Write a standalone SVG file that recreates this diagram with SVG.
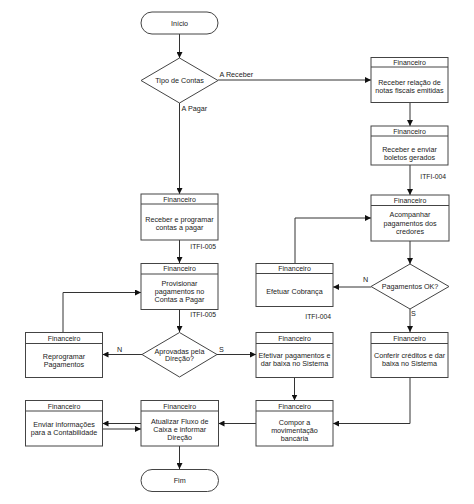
<svg xmlns="http://www.w3.org/2000/svg" width="474" height="504" viewBox="0 0 474 504">
<defs>
<marker id="ah" viewBox="0 0 6 6" refX="6" refY="3" markerWidth="6" markerHeight="6" orient="auto" markerUnits="userSpaceOnUse">
<path d="M0,0 L6,3 L0,6 Z" fill="#111"/>
</marker>
<style>
.box{fill:#fff;stroke:#444;stroke-width:1}
.hl{stroke:#444;stroke-width:1}
.t{font-family:"Liberation Sans",Arial,sans-serif;font-size:7.2px;fill:#222;text-anchor:middle}
.h{font-family:"Liberation Sans",Arial,sans-serif;font-size:7px;fill:#222;text-anchor:middle}
.lb{font-family:"Liberation Sans",Arial,sans-serif;font-size:7.2px;fill:#222}
.it{font-family:"Liberation Sans",Arial,sans-serif;font-size:6.8px;fill:#222;text-anchor:end}
.c{fill:none;stroke:#333;stroke-width:1;marker-end:url(#ah)}
.cn{fill:none;stroke:#333;stroke-width:1}
</style>
</defs>
<rect width="474" height="504" fill="#fff"/>

<g id="connectors">
<path class="c" d="M179.5,34 V58"/>
<path class="c" d="M218,80 H371"/>
<path class="c" d="M179.5,103 V194"/>
<path class="c" d="M410,102 V126"/>
<path class="c" d="M410,165 V195"/>
<path class="c" d="M179.5,240 V263"/>
<path class="c" d="M410,241 V264"/>
<path class="c" d="M371,287 H333"/>
<path class="c" d="M295,264 V218 H371"/>
<path class="c" d="M179.5,309 V332"/>
<path class="c" d="M63,332 V292.5 H141"/>
<path class="c" d="M142,354.5 H102.5"/>
<path class="c" d="M217,354.5 H256"/>
<path class="c" d="M410,309 V332"/>
<path class="c" d="M294.5,377 V400.5"/>
<path class="c" d="M410,377 V423.5 H333"/>
<path class="c" d="M256,423.5 H218.5"/>
<path class="c" d="M141,423.5 H102.5"/>
<path class="c" d="M102.5,429 H141"/>
<path class="c" d="M179.5,446 V469"/>
</g>

<g id="labels">
<text class="lb" x="219.5" y="76.5">A Receber</text>
<text class="lb" x="181.5" y="111">A Pagar</text>
<text class="lb" x="363" y="281.5">N</text>
<text class="lb" x="411" y="316">S</text>
<text class="lb" x="117" y="352">N</text>
<text class="lb" x="219" y="352">S</text>
<text class="it" x="446" y="179">ITFI-004</text>
<text class="it" x="216" y="248.5">ITFI-005</text>
<text class="it" x="216" y="316.5">ITFI-005</text>
<text class="it" x="331" y="318.5">ITFI-004</text>
</g>

<g id="inicio">
<rect class="box" x="141" y="12" width="77" height="22" rx="11"/>
<text class="t" x="179.5" y="25.5">Início</text>
</g>

<g id="tipo">
<path class="box" d="M179.5,58 L218,80.5 L179.5,103 L141,80.5 Z"/>
<text class="t" x="179.5" y="83">Tipo  de Contas</text>
</g>

<g id="receber-relacao">
<rect class="box" x="371" y="57.5" width="77" height="45"/>
<line class="hl" x1="371" y1="67" x2="448" y2="67"/>
<text class="h" x="409.5" y="64.5">Financeiro</text>
<text class="t" x="409.5" y="85">Receber relação de</text>
<text class="t" x="409.5" y="93">notas fiscais emitidas</text>
</g>

<g id="receber-enviar">
<rect class="box" x="371" y="126" width="77" height="39"/>
<line class="hl" x1="371" y1="136" x2="448" y2="136"/>
<text class="h" x="409.5" y="133.5">Financeiro</text>
<text class="t" x="409.5" y="152">Receber e enviar</text>
<text class="t" x="409.5" y="160">boletos gerados</text>
</g>

<g id="receber-programar">
<rect class="box" x="141" y="194" width="77" height="46"/>
<line class="hl" x1="141" y1="204" x2="218" y2="204"/>
<text class="h" x="179.5" y="201.5">Financeiro</text>
<text class="t" x="179.5" y="222">Receber e programar</text>
<text class="t" x="179.5" y="230">contas a pagar</text>
</g>

<g id="acompanhar">
<rect class="box" x="371" y="195" width="78" height="46"/>
<line class="hl" x1="371" y1="205.5" x2="449" y2="205.5"/>
<text class="h" x="410" y="202.5">Financeiro</text>
<text class="t" x="410" y="217">Acompanhar</text>
<text class="t" x="410" y="225.5">pagamentos dos</text>
<text class="t" x="410" y="234">credores</text>
</g>

<g id="provisionar">
<rect class="box" x="141" y="263.5" width="77" height="46"/>
<line class="hl" x1="141" y1="274" x2="218" y2="274"/>
<text class="h" x="179.5" y="271">Financeiro</text>
<text class="t" x="179.5" y="286">Provisionar</text>
<text class="t" x="179.5" y="294">pagamentos no</text>
<text class="t" x="179.5" y="302">Contas a Pagar</text>
</g>

<g id="efetuar-cobranca">
<rect class="box" x="256" y="263.5" width="77" height="43"/>
<line class="hl" x1="256" y1="273.5" x2="333" y2="273.5"/>
<text class="h" x="294.5" y="271">Financeiro</text>
<text class="t" x="294.5" y="294">Efetuar Cobrança</text>
</g>

<g id="pagamentos-ok">
<path class="box" d="M410,264 L449,286.5 L410,309 L371,286.5 Z"/>
<text class="t" x="410" y="289">Pagamentos  OK?</text>
</g>

<g id="reprogramar">
<rect class="box" x="25.5" y="332.5" width="77" height="45"/>
<line class="hl" x1="25.5" y1="343.5" x2="102.5" y2="343.5"/>
<text class="h" x="64" y="340.5">Financeiro</text>
<text class="t" x="64" y="359">Reprogramar</text>
<text class="t" x="64" y="367">Pagamentos</text>
</g>

<g id="aprovadas">
<path class="box" d="M179.5,332.5 L217,354.5 L179.5,377 L142,354.5 Z"/>
<text class="t" x="179.5" y="353.5">Aprovadas pela</text>
<text class="t" x="179.5" y="361">Direção?</text>
</g>

<g id="efetivar">
<rect class="box" x="256" y="332.5" width="77" height="45"/>
<line class="hl" x1="256" y1="343.5" x2="333" y2="343.5"/>
<text class="h" x="294.5" y="340.5">Financeiro</text>
<text class="t" x="294.5" y="358">Efetivar pagamentos e</text>
<text class="t" x="294.5" y="366">dar baixa no Sistema</text>
</g>

<g id="conferir">
<rect class="box" x="371" y="332.5" width="77" height="45"/>
<line class="hl" x1="371" y1="343.5" x2="448" y2="343.5"/>
<text class="h" x="409.5" y="340.5">Financeiro</text>
<text class="t" x="409.5" y="358">Conferir créditos e dar</text>
<text class="t" x="409.5" y="366">baixa no Sistema</text>
</g>

<g id="enviar">
<rect class="box" x="25.5" y="400.5" width="77" height="45.5"/>
<line class="hl" x1="25.5" y1="411" x2="102.5" y2="411"/>
<text class="h" x="64" y="408.5">Financeiro</text>
<text class="t" x="64" y="427">Enviar informações</text>
<text class="t" x="64" y="435">para a Contabilidade</text>
</g>

<g id="atualizar">
<rect class="box" x="141" y="400.5" width="77.5" height="45.5"/>
<line class="hl" x1="141" y1="411" x2="218.5" y2="411"/>
<text class="h" x="179.7" y="408.5">Financeiro</text>
<text class="t" x="179.7" y="423.5">Atualizar Fluxo de</text>
<text class="t" x="179.7" y="431.5">Caixa e informar</text>
<text class="t" x="179.7" y="440">Direção</text>
</g>

<g id="compor">
<rect class="box" x="256" y="400.5" width="77" height="45.5"/>
<line class="hl" x1="256" y1="411" x2="333" y2="411"/>
<text class="h" x="294.5" y="408.5">Financeiro</text>
<text class="t" x="294.5" y="424.5">Compor a</text>
<text class="t" x="294.5" y="432.5">movimentação</text>
<text class="t" x="294.5" y="440.5">bancária</text>
</g>

<g id="fim">
<rect class="box" x="141" y="469.5" width="77.5" height="22" rx="11"/>
<text class="t" x="179.7" y="483">Fim</text>
</g>
</svg>
